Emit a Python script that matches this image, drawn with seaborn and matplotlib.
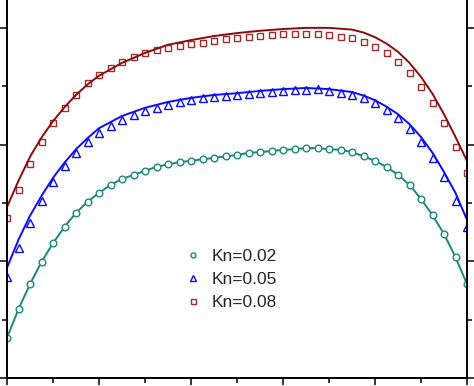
import numpy as np
import pandas as pd
import matplotlib
matplotlib.use("Agg")
import matplotlib.pyplot as plt
from matplotlib.lines import Line2D
from matplotlib.ticker import MultipleLocator
import seaborn as sns

# --- data: channel position vs velocity ---
x_pts = np.linspace(0, 1, 41)

kn002 = [0.069, 0.118, 0.161, 0.199, 0.231, 0.259, 0.283, 0.302, 0.317, 0.331,
         0.341, 0.348, 0.355, 0.362, 0.366, 0.370, 0.372, 0.375, 0.377, 0.380,
         0.382, 0.386, 0.387, 0.389, 0.391, 0.392, 0.394, 0.394, 0.392, 0.391,
         0.387, 0.380, 0.372, 0.362, 0.348, 0.331, 0.307, 0.279, 0.247, 0.207,
         0.161]

kn005 = [0.173, 0.223, 0.266, 0.303, 0.336, 0.363, 0.386, 0.404, 0.420, 0.432,
         0.442, 0.451, 0.458, 0.463, 0.468, 0.473, 0.476, 0.480, 0.482, 0.483,
         0.485, 0.487, 0.488, 0.490, 0.492, 0.494, 0.494, 0.495, 0.492, 0.488,
         0.485, 0.480, 0.471, 0.459, 0.446, 0.427, 0.404, 0.377, 0.344, 0.303,
         0.259]

kn008 = [0.274, 0.322, 0.367, 0.404, 0.437, 0.463, 0.485, 0.506, 0.519, 0.531,
         0.542, 0.550, 0.557, 0.562, 0.566, 0.569, 0.572, 0.574, 0.578, 0.581,
         0.583, 0.584, 0.586, 0.588, 0.590, 0.590, 0.590, 0.590, 0.588, 0.584,
         0.583, 0.576, 0.567, 0.557, 0.542, 0.523, 0.499, 0.471, 0.437, 0.396,
         0.351]

# model curves (solid lines)
x_model = [0, 0.025, 0.05, 0.075, 0.1, 0.125, 0.15, 0.175, 0.2, 0.25, 0.3, 0.35,
           0.4, 0.45, 0.5, 0.55, 0.6, 0.65, 0.7, 0.75, 0.775, 0.8, 0.825, 0.85,
           0.875, 0.9, 0.925, 0.95, 0.975, 1.0]
model005 = [0.189, 0.237, 0.278, 0.312, 0.343, 0.369, 0.392, 0.411, 0.428, 0.449,
            0.463, 0.473, 0.480, 0.485, 0.488, 0.492, 0.495, 0.497, 0.495, 0.490,
            0.484, 0.476, 0.465, 0.452, 0.435, 0.413, 0.386, 0.353, 0.317, 0.271]
model008 = [0.293, 0.338, 0.379, 0.412, 0.440, 0.464, 0.485, 0.503, 0.518, 0.540,
            0.557, 0.571, 0.579, 0.586, 0.591, 0.595, 0.598, 0.600, 0.600, 0.597,
            0.592, 0.584, 0.573, 0.559, 0.540, 0.516, 0.487, 0.452, 0.413, 0.372]

labels = ["Kn=0.02", "Kn=0.05", "Kn=0.08"]
TEAL, BLUE, RED_LINE, RED_MK = "#1b877d", "#0a0aff", "#8b0a0a", "#a02c2c"

sns.set_theme(style="ticks")
plt.rcParams["font.family"] = ["Liberation Sans", "DejaVu Sans"]

fig = plt.figure(figsize=(4.74, 3.86), dpi=100)
# the reference is a crop: the top of the frame lies outside the image
ax = fig.add_axes([7 / 474, 8 / 386, 460 / 474, 408.5 / 386])

# Kn=0.02: markers joined by a line
sns.lineplot(x=x_pts, y=kn002, ax=ax, color=TEAL, lw=1.4, marker="o",
             markersize=4.8, markerfacecolor="white", markeredgecolor=TEAL,
             markeredgewidth=1.0)

# Kn=0.05 and 0.08: open markers + model line
sns.lineplot(x=x_pts, y=kn005, ax=ax, color=BLUE, linestyle="", marker="^",
             markersize=5.3, markerfacecolor="white", markeredgecolor=BLUE,
             markeredgewidth=1.0)
sns.lineplot(x=x_pts, y=kn008, ax=ax, color=RED_MK, linestyle="", marker="s",
             markersize=4.3, markerfacecolor="white", markeredgecolor=RED_MK,
             markeredgewidth=1.0)
sns.lineplot(x=x_model, y=model005, ax=ax, color=BLUE, lw=1.4)
sns.lineplot(x=x_model, y=model008, ax=ax, color=RED_LINE, lw=1.4)

ax.set_xlim(0, 1)
ax.set_ylim(0, 0.7)
ax.xaxis.set_major_locator(MultipleLocator(0.2))
ax.xaxis.set_minor_locator(MultipleLocator(0.1))
ax.yaxis.set_major_locator(MultipleLocator(0.2))
ax.yaxis.set_minor_locator(MultipleLocator(0.1))
ax.tick_params(which="both", direction="out", right=True, width=1.1,
               color="black", labelbottom=False, labelleft=False)
ax.tick_params(which="major", length=5.2)
ax.tick_params(which="minor", length=3.6)
for s in ax.spines.values():
    s.set_linewidth(1.4)
    s.set_color("black")
ax.set_xlabel("")
ax.set_ylabel("")

handles = [
    Line2D([], [], ls="", marker="o", ms=3.6, mfc="white", mec=TEAL, mew=1.0),
    Line2D([], [], ls="", marker="^", ms=3.8, mfc="white", mec=BLUE, mew=1.0),
    Line2D([], [], ls="", marker="s", ms=3.6, mfc="white", mec=RED_MK, mew=1.0),
]
ax.legend(handles, labels, loc="center", bbox_to_anchor=(0.487, 0.277),
          bbox_transform=fig.transFigure, frameon=False, fontsize=12.5,
          handlelength=1.0, handletextpad=0.6, labelspacing=0.45)

fig.savefig("out.png", dpi=100)
plt.close(fig)
